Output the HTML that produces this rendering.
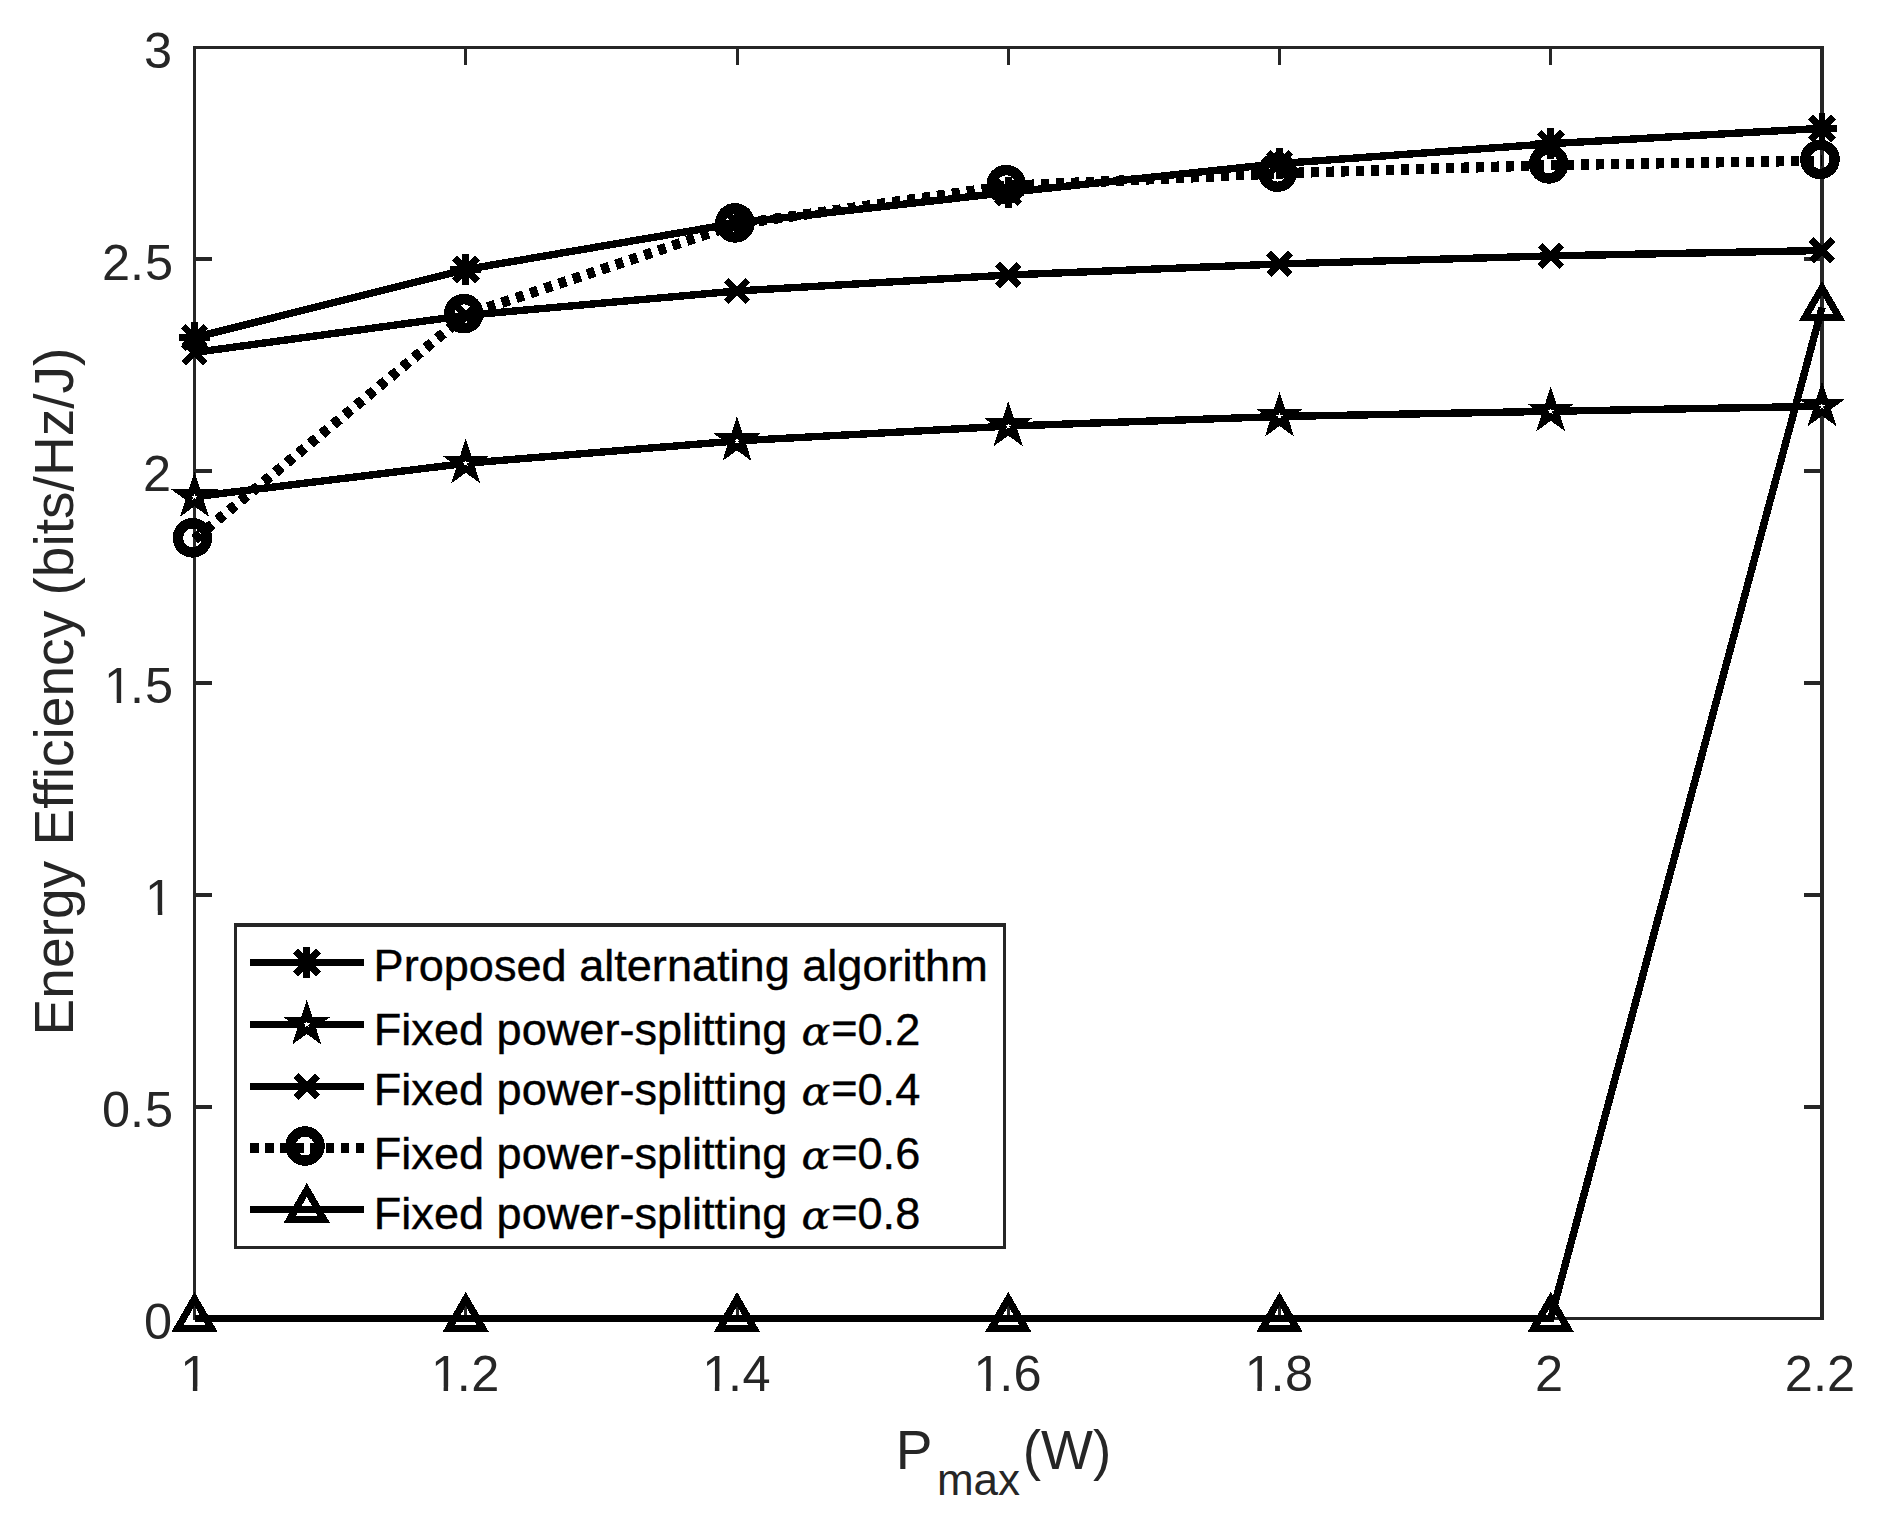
<!DOCTYPE html>
<html lang="en">
<head>
<meta charset="utf-8">
<title>Energy Efficiency versus Pmax</title>
<style>
html,body{margin:0;padding:0;background:#fff}
svg{display:block}
text{font-family:"Liberation Sans",sans-serif}
.tk{font-size:50.5px;fill:#262626}
.lb{font-size:55px;fill:#262626}
.lg{font-size:45.1px;fill:#000;stroke:#000;stroke-width:0.4px}
.al{font-family:"DejaVu Serif","Liberation Serif",serif;font-style:italic;font-size:38.5px}
</style>
</head>
<body>
<svg width="1880" height="1524" viewBox="0 0 1880 1524" role="img" aria-label="Energy efficiency versus maximum transmit power for the proposed alternating algorithm and fixed power-splitting ratios">
<rect x="0" y="0" width="1880" height="1524" fill="#fff"/>
<g fill="#262626" shape-rendering="crispEdges">
<rect x="193" y="46" width="3" height="1274"/><rect x="1820" y="46" width="4" height="1274"/><rect x="193" y="46" width="1631" height="3"/><rect x="193" y="1317" width="1631" height="3"/>
<rect x="464" y="46" width="3" height="19"/><rect x="464" y="1301" width="3" height="19"/>
<rect x="736" y="46" width="3" height="19"/><rect x="736" y="1301" width="3" height="19"/>
<rect x="1007" y="46" width="3" height="19"/><rect x="1007" y="1301" width="3" height="19"/>
<rect x="1278" y="46" width="3" height="19"/><rect x="1278" y="1301" width="3" height="19"/>
<rect x="1549" y="46" width="3" height="19"/><rect x="1549" y="1301" width="3" height="19"/>
<rect x="193" y="1105" width="19" height="4"/><rect x="1804" y="1105" width="20" height="4"/>
<rect x="193" y="893" width="19" height="4"/><rect x="1804" y="893" width="20" height="4"/>
<rect x="193" y="681" width="19" height="4"/><rect x="1804" y="681" width="20" height="4"/>
<rect x="193" y="469" width="19" height="4"/><rect x="1804" y="469" width="20" height="4"/>
<rect x="193" y="257" width="19" height="4"/><rect x="1804" y="257" width="20" height="4"/>
</g>
<g class="tk">
<text x="180.17" y="1391">1</text>
<text x="430.92 456.83 471.16" y="1391">1.2</text>
<text x="702.17 728.08 742.57" y="1391">1.4</text>
<text x="973.42 999.33 1013.48" y="1391">1.6</text>
<text x="1244.67 1270.58 1284.91" y="1391">1.8</text>
<text x="1535.03" y="1391">2</text>
<text x="1784.86 1812.94 1827.01" y="1391">2.2</text>
<text x="144.01" y="1338.8">0</text>
<text x="101.99 129.95 145.06" y="1126.97">0.5</text>
<text x="145.12" y="915.13">1</text>
<text x="104.02 129.95 145.06" y="703.3">1.5</text>
<text x="143.06" y="491.47">2</text>
<text x="101.99 129.95 145.06" y="279.63">2.5</text>
<text x="143.96" y="67.8">3</text>
</g>
<g fill="#fff"><rect x="182.67" y="1386.7" width="10.2" height="5.3"/><rect x="197.33" y="1386.7" width="10" height="5.3"/><rect x="433.42" y="1386.7" width="10.2" height="5.3"/><rect x="448.08" y="1386.7" width="10" height="5.3"/><rect x="704.67" y="1386.7" width="10.2" height="5.3"/><rect x="719.33" y="1386.7" width="10" height="5.3"/><rect x="975.92" y="1386.7" width="10.2" height="5.3"/><rect x="990.58" y="1386.7" width="10" height="5.3"/><rect x="1247.17" y="1386.7" width="10.2" height="5.3"/><rect x="1261.83" y="1386.7" width="10" height="5.3"/><rect x="147.62" y="910.83" width="10.2" height="5.3"/><rect x="162.28" y="910.83" width="10" height="5.3"/><rect x="106.52" y="699" width="10.2" height="5.3"/><rect x="121.18" y="699" width="10" height="5.3"/></g>
<text class="lb" transform="translate(73,691.5) rotate(-90)" text-anchor="middle" style="font-size:55.1px">Energy Efficiency (bits/Hz/J)</text>
<text class="lb" x="895.7" y="1469">P</text>
<text class="lb" x="936.9" y="1495" style="font-size:44px">max</text>
<text class="lb" x="1022.7" y="1469">(W)</text>
<g stroke="#000" fill="none" stroke-linejoin="miter" stroke-miterlimit="10" shape-rendering="crispEdges">
<polyline points="194.5,337.5 465.75,269.5 737,223 1008.25,192.4 1279.5,163.6 1550.75,143.7 1822,128.3" stroke-width="7.4"/>
<path d="M179.1,337.5H209.9M194.5,322.1V352.9M183.01,326.01L205.99,348.99M183.01,348.99L205.99,326.01M450.35,269.5H481.15M465.75,254.1V284.9M454.26,258.01L477.24,280.99M454.26,280.99L477.24,258.01M721.6,223H752.4M737,207.6V238.4M725.51,211.51L748.49,234.49M725.51,234.49L748.49,211.51M992.85,192.4H1023.65M1008.25,177V207.8M996.76,180.91L1019.74,203.89M996.76,203.89L1019.74,180.91M1264.1,163.6H1294.9M1279.5,148.2V179M1268.01,152.11L1290.99,175.09M1268.01,175.09L1290.99,152.11M1535.35,143.7H1566.15M1550.75,128.3V159.1M1539.26,132.21L1562.24,155.19M1539.26,155.19L1562.24,132.21M1806.6,128.3H1837.4M1822,112.9V143.7M1810.51,116.81L1833.49,139.79M1810.51,139.79L1833.49,116.81" stroke-width="6.8"/>
<polyline points="194.5,496.8 465.75,463.3 737,440.9 1008.25,426.1 1279.5,416.5 1550.75,411.3 1822,406.3" stroke-width="7.4"/>
<path d="M194.5,482.4L197.73,492.35L208.2,492.35L199.73,498.5L202.96,508.45L194.5,502.3L186.04,508.45L189.27,498.5L180.8,492.35L191.27,492.35ZM465.75,448.9L468.98,458.85L479.45,458.85L470.98,465L474.21,474.95L465.75,468.8L457.29,474.95L460.52,465L452.05,458.85L462.52,458.85ZM737,426.5L740.23,436.45L750.7,436.45L742.23,442.6L745.46,452.55L737,446.4L728.54,452.55L731.77,442.6L723.3,436.45L733.77,436.45ZM1008.25,411.7L1011.48,421.65L1021.95,421.65L1013.48,427.8L1016.71,437.75L1008.25,431.6L999.79,437.75L1003.02,427.8L994.55,421.65L1005.02,421.65ZM1279.5,402.1L1282.73,412.05L1293.2,412.05L1284.73,418.2L1287.96,428.15L1279.5,422L1271.04,428.15L1274.27,418.2L1265.8,412.05L1276.27,412.05ZM1550.75,396.9L1553.98,406.85L1564.45,406.85L1555.98,413L1559.21,422.95L1550.75,416.8L1542.29,422.95L1545.52,413L1537.05,406.85L1547.52,406.85ZM1822,391.9L1825.23,401.85L1835.7,401.85L1827.23,408L1830.46,417.95L1822,411.8L1813.54,417.95L1816.77,408L1808.3,401.85L1818.77,401.85Z" stroke-width="6.5"/>
<polyline points="194.5,352.5 465.75,315.4 737,291 1008.25,275 1279.5,264 1550.75,255.9 1822,250.5" stroke-width="7.4"/>
<path d="M183.75,341.75L205.25,363.25M183.75,363.25L205.25,341.75M455,304.65L476.5,326.15M455,326.15L476.5,304.65M726.25,280.25L747.75,301.75M726.25,301.75L747.75,280.25M997.5,264.25L1019,285.75M997.5,285.75L1019,264.25M1268.75,253.25L1290.25,274.75M1268.75,274.75L1290.25,253.25M1540,245.15L1561.5,266.65M1540,266.65L1561.5,245.15M1811.25,239.75L1832.75,261.25M1811.25,261.25L1832.75,239.75" stroke-width="6.8"/>
<polyline points="194.5,539.1 465.75,314.9 737,224.1 1008.25,185.8 1279.5,173.3 1550.75,165.1 1822,160.6" stroke-width="10.4" stroke-dasharray="8 7"/>
<circle cx="192.5" cy="537.9" r="14.6" stroke-width="10.4"/>
<circle cx="463.75" cy="313.7" r="14.6" stroke-width="10.4"/>
<circle cx="735" cy="222.9" r="14.6" stroke-width="10.4"/>
<circle cx="1006.25" cy="184.6" r="14.6" stroke-width="10.4"/>
<circle cx="1277.5" cy="172.1" r="14.6" stroke-width="10.4"/>
<circle cx="1548.75" cy="163.9" r="14.6" stroke-width="10.4"/>
<circle cx="1820" cy="159.4" r="14.6" stroke-width="10.4"/>
<polyline points="194.5,1318.5 465.75,1318.5 737,1318.5 1008.25,1318.5 1279.5,1318.5 1550.75,1318.5 1822,307.5" stroke-width="7.4"/>
<path d="M194.5,1298.9L211.47,1328.3L177.53,1328.3ZM465.75,1298.9L482.72,1328.3L448.78,1328.3ZM737,1298.9L753.97,1328.3L720.03,1328.3ZM1008.25,1298.9L1025.22,1328.3L991.28,1328.3ZM1279.5,1298.9L1296.47,1328.3L1262.53,1328.3ZM1550.75,1298.9L1567.72,1328.3L1533.78,1328.3ZM1822,287.9L1838.97,317.3L1805.03,317.3Z" stroke-width="7.1"/>
<path d="M194.5,493.5L195.24,495.78L197.64,495.78L195.7,497.19L196.44,499.47L194.5,498.06L192.56,499.47L193.3,497.19L191.36,495.78L193.76,495.78ZM465.75,460L466.49,462.28L468.89,462.28L466.95,463.69L467.69,465.97L465.75,464.56L463.81,465.97L464.55,463.69L462.61,462.28L465.01,462.28ZM737,437.6L737.74,439.88L740.14,439.88L738.2,441.29L738.94,443.57L737,442.16L735.06,443.57L735.8,441.29L733.86,439.88L736.26,439.88ZM1008.25,422.8L1008.99,425.08L1011.39,425.08L1009.45,426.49L1010.19,428.77L1008.25,427.36L1006.31,428.77L1007.05,426.49L1005.11,425.08L1007.51,425.08ZM1279.5,413.2L1280.24,415.48L1282.64,415.48L1280.7,416.89L1281.44,419.17L1279.5,417.76L1277.56,419.17L1278.3,416.89L1276.36,415.48L1278.76,415.48ZM1550.75,408L1551.49,410.28L1553.89,410.28L1551.95,411.69L1552.69,413.97L1550.75,412.56L1548.81,413.97L1549.55,411.69L1547.61,410.28L1550.01,410.28ZM1822,403L1822.74,405.28L1825.14,405.28L1823.2,406.69L1823.94,408.97L1822,407.56L1820.06,408.97L1820.8,406.69L1818.86,405.28L1821.26,405.28Z" fill="#fff" stroke="none"/>
</g>
<g shape-rendering="crispEdges"><rect x="234" y="923" width="772" height="326" fill="#262626"/><rect x="237" y="927" width="766" height="319" fill="#fff"/></g>
<g stroke="#000" fill="none" stroke-linejoin="miter" stroke-miterlimit="10" shape-rendering="crispEdges">
<path d="M250,962.5H364" stroke-width="7"/>
<path d="M250,1024.5H364" stroke-width="7"/>
<path d="M250,1086.5H364" stroke-width="7"/>
<path d="M250,1148H364" stroke-width="10" stroke-dasharray="8.6 6.5"/>
<path d="M250,1209.5H364" stroke-width="7"/>
<path d="M291.4,962.5H322.2M306.8,947.1V977.9M295.31,951.01L318.29,973.99M295.31,973.99L318.29,951.01" stroke-width="6.8"/>
<path d="M306.8,1010.1L310.03,1020.05L320.5,1020.05L312.03,1026.2L315.26,1036.15L306.8,1030L298.34,1036.15L301.57,1026.2L293.1,1020.05L303.57,1020.05Z" stroke-width="6.5"/>
<path d="M306.8,1021.2L307.54,1023.48L309.94,1023.48L308,1024.89L308.74,1027.17L306.8,1025.76L304.86,1027.17L305.6,1024.89L303.66,1023.48L306.06,1023.48Z" fill="#fff" stroke="none"/>
<path d="M296.05,1075.75L317.55,1097.25M296.05,1097.25L317.55,1075.75" stroke-width="6.8"/>
<circle cx="305" cy="1146" r="14.6" stroke-width="10.4"/>
<path d="M306.8,1189.9L323.77,1219.3L289.83,1219.3Z" stroke-width="7.1"/>
</g>
<g class="lg">
<text x="373.6" y="980.7">Proposed alternating algorithm</text>
<text x="373.8" y="1044.9">Fixed power-splitting</text>
<text class="al" transform="translate(801.4,1045.3) scale(1.105,1.03)">α</text>
<text x="831.2" y="1044.9"><tspan dy="-2">=</tspan><tspan dy="2">0.2</tspan></text>
<text x="373.8" y="1104.8">Fixed power-splitting</text>
<text class="al" transform="translate(801.4,1105.2) scale(1.105,1.03)">α</text>
<text x="831.2" y="1104.8"><tspan dy="-2">=</tspan><tspan dy="2">0.4</tspan></text>
<text x="373.8" y="1168.5">Fixed power-splitting</text>
<text class="al" transform="translate(801.4,1168.9) scale(1.105,1.03)">α</text>
<text x="831.2" y="1168.5"><tspan dy="-2">=</tspan><tspan dy="2">0.6</tspan></text>
<text x="373.8" y="1228.5">Fixed power-splitting</text>
<text class="al" transform="translate(801.4,1228.9) scale(1.105,1.03)">α</text>
<text x="831.2" y="1228.5"><tspan dy="-2">=</tspan><tspan dy="2">0.8</tspan></text>
</g>
</svg>
</body>
</html>
